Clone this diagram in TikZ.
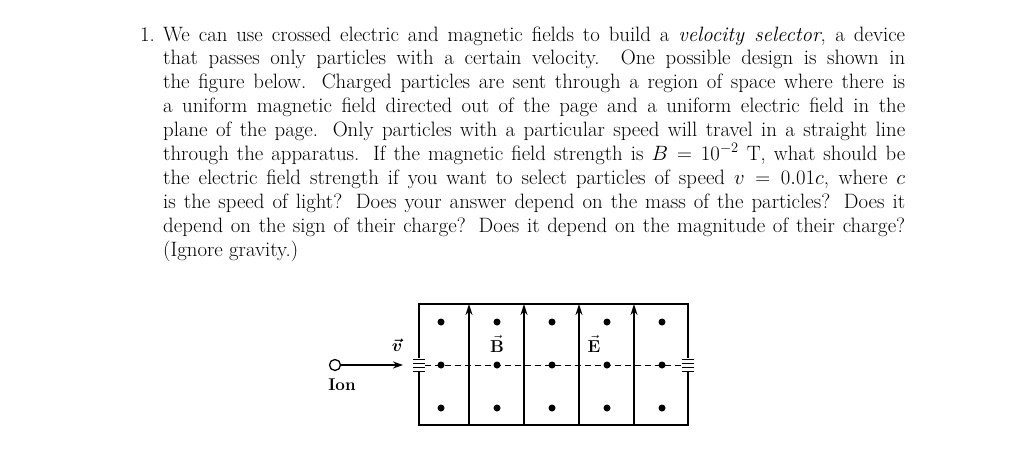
\documentclass[tikz,border=0pt]{standalone}
\usepackage{amsmath,amssymb}
\usetikzlibrary{arrows.meta}
\begin{document}
\begin{tikzpicture}[x=1pt,y=-1pt,
  txt/.style={anchor=base west,inner sep=0pt,font=\fontsize{20.8}{24}\selectfont},
  wall/.style={line width=1.4pt},
  fld/.style={line width=1.4pt,-{Stealth[length=11pt,width=7pt]}},
  dot/.style={circle,fill=black,inner sep=0pt,minimum size=7pt}]
\useasboundingbox (0,0) rectangle (1024,467);
\node[txt] (n) at (140,41) {1.};
\foreach \i/\t in {
 0/{We can use crossed electric and magnetic fields to build a \textit{velocity selector}, a device},
 1/{that passes only particles with a certain velocity.\ \ One possible design is shown in},
 2/{the figure below. Charged particles are sent through a region of space where there is},
 3/{a uniform magnetic field directed out of the page and a uniform electric field in the},
 4/{plane of the page. Only particles with a particular speed will travel in a straight line},
 5/{through the apparatus. If the magnetic field strength is $B=10^{-2}$ T, what should be},
 6/{the electric field strength if you want to select particles of speed $v=0.01c$, where $c$},
 7/{is the speed of light? Does your answer depend on the mass of the particles? Does it},
 8/{depend on the sign of their charge? Does it depend on the magnitude of their charge?}}
 \node[txt] (l\i) at (163,41+23.9*\i) {\makebox[742pt][s]{\t}};
\node[txt] (l9) at (163,41+23.9*9) {(Ignore gravity.)};
% box
\draw[wall] (419,358) -- (419,304) -- (688,304) -- (688,358);
\draw[wall] (419,372) -- (419,425) -- (688,425) -- (688,372);
\foreach \x in {419,688}{
 \draw[line width=1pt] (\x-6,359) -- (\x+6,359) (\x-6,363) -- (\x+6,363);
 \draw[line width=1pt] (\x-6,367) -- (\x+6,367) (\x-6,371) -- (\x+6,371);}
\foreach \x in {469,524,579,634}
 \draw[fld] (\x,425) -- (\x,304);
\foreach \x in {441,497,552,607,662}
 \foreach \y in {322,365,408}
  \node[dot] at (\x,\y) {};
\draw[line width=1pt,dash pattern=on 6pt off 4pt] (425,365) -- (682,365);
\node[circle,draw,line width=1.3pt,minimum size=11pt,inner sep=0pt] (ion) at (335,365) {};
\coordinate (vend) at (403,365);
\draw[line width=1.4pt,-{Stealth[length=10pt,width=7pt]}] (ion) -- (vend);
\node[font=\fontsize{17}{17}\selectfont\bfseries] (ionl) at (342,385) {Ion};
\node[font=\fontsize{17}{17}\selectfont,inner sep=0pt] (vl) at (397,345) {$\boldsymbol{\vec v}$};
\node[font=\fontsize{18}{18}\selectfont,inner sep=0pt] (bl) at (497,344) {$\vec{\mathbf{B}}$};
\node[font=\fontsize{18}{18}\selectfont,inner sep=0pt] (el) at (594,344) {$\vec{\mathbf{E}}$};
\end{tikzpicture}
\end{document}
